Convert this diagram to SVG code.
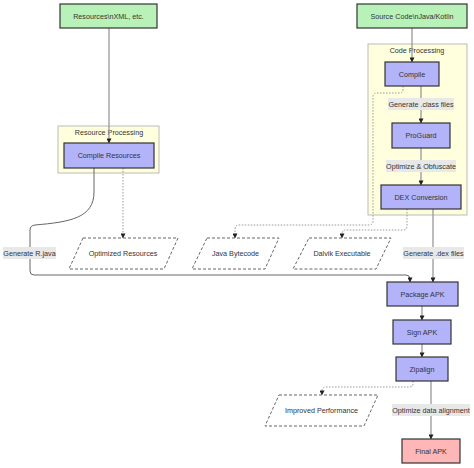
<svg xmlns="http://www.w3.org/2000/svg" width="474" height="468" viewBox="0 0 474 468">
<defs>
<marker id="arr" viewBox="0 0 6 6" refX="5.5" refY="3" markerWidth="5" markerHeight="5" orient="auto" markerUnits="userSpaceOnUse">
<path d="M0,0 L6,3 L0,6 z" fill="#222"/>
</marker>
</defs>
<style>
text{font-family:"Liberation Sans",Arial,sans-serif;font-size:7.2px;fill:#333;text-anchor:middle;dominant-baseline:central}
.green{fill:#b8f2b8;stroke:#333;stroke-width:1.2}
.proc{fill:#b3b3fa;stroke:#333;stroke-width:1.2}
.final{fill:#ffb6b6;stroke:#333;stroke-width:1.2}
.cluster{fill:#ffffde;stroke:#bbb;stroke-width:1}
.data{fill:#fff;stroke:#666;stroke-width:1;stroke-dasharray:3,2}
.solid{fill:none;stroke:#999;stroke-width:1.3}
.dark{fill:none;stroke:#666;stroke-width:1}
.dot{fill:none;stroke:#999;stroke-width:1;stroke-dasharray:1.5,1.5}
.lbl{fill:#e8e8e8;stroke:none}
</style>
<rect width="474" height="468" fill="#fff"/>
<g id="cluster-resource">
<rect class="cluster" x="58" y="126" width="101" height="47"/>
<text x="109" y="132">Resource Processing</text>
</g>
<g id="cluster-code">
<rect class="cluster" x="368" y="44" width="99" height="171"/>
<text x="417" y="50">Code Processing</text>
</g>
<g id="connectors">
<path class="solid" d="M109,28 L109,143" marker-end="url(#arr)"/>
<path class="solid" d="M412,28 L412,62" marker-end="url(#arr)"/>
<path class="solid" d="M421,86 L421,123" marker-end="url(#arr)"/>
<path class="solid" d="M421,148 L421,185" marker-end="url(#arr)"/>
<path class="dark" d="M94,168 L94,192 C94,218 70,222 35,225 Q30,225.5 30,230 L30,271 Q30,275 34,275 L406,275 Q410,275 410,279 L410,282" marker-end="url(#arr)"/>
<path class="dot" d="M123,168 L123,238" marker-end="url(#arr)"/>
<path class="dot" d="M403,86 L403,90 Q403,93 399,93 L377,93 Q373,93 373,97 L373,221 Q373,225 369,225 L239,225 Q235,225 235,229 L235,238" marker-end="url(#arr)"/>
<path class="dot" d="M407,209 L407,226 Q407,230 403,230 L346,230 Q342,230 342,234 L342,238" marker-end="url(#arr)"/>
<path class="solid" d="M433,209 L433,282" marker-end="url(#arr)"/>
<path class="solid" d="M422,306 L422,320" marker-end="url(#arr)"/>
<path class="solid" d="M422,344 L422,357" marker-end="url(#arr)"/>
<path class="dot" d="M413,381 L413,384 Q413,387 409,387 L326,387 Q322,387 322,391 L322,395" marker-end="url(#arr)"/>
<path class="solid" d="M431,381 L431,439" marker-end="url(#arr)"/>
<rect class="lbl" x="388" y="98" width="66" height="12"/>
<text x="421" y="104">Generate .class files</text>
<rect class="lbl" x="386" y="160" width="70" height="12"/>
<text x="421" y="166">Optimize &amp; Obfuscate</text>
<rect class="lbl" x="3" y="247" width="53" height="12"/>
<text x="29.5" y="253">Generate R.java</text>
<rect class="lbl" x="403" y="247" width="61" height="12"/>
<text x="433.5" y="253">Generate .dex files</text>
<rect class="lbl" x="392" y="404" width="78" height="12"/>
<text x="431" y="410">Optimize data alignment</text>
</g>
<g id="node-resources">
<rect class="green" x="60" y="4" width="97" height="24"/>
<text x="108.5" y="16">Resources\nXML, etc.</text>
</g>
<g id="node-source">
<rect class="green" x="357" y="4" width="110" height="24"/>
<text x="412" y="16">Source Code\nJava/Kotlin</text>
</g>
<g id="node-compile-resources">
<rect class="proc" x="64" y="143" width="90" height="25"/>
<text x="109" y="155.5">Compile Resources</text>
</g>
<g id="node-compile">
<rect class="proc" x="385" y="62" width="54" height="24"/>
<text x="412" y="74">Compile</text>
</g>
<g id="node-proguard">
<rect class="proc" x="392" y="123" width="58" height="25"/>
<text x="421" y="135.5">ProGuard</text>
</g>
<g id="node-dex">
<rect class="proc" x="381" y="185" width="80" height="24"/>
<text x="421" y="197">DEX Conversion</text>
</g>
<g id="node-optimized-resources">
<polygon class="data" points="83,238 178,238 164,269 69,269"/>
<text x="123" y="253.5">Optimized Resources</text>
</g>
<g id="node-java-bytecode">
<polygon class="data" points="207,238 279,238 265,269 192,269"/>
<text x="235.5" y="253.5">Java Bytecode</text>
</g>
<g id="node-dalvik">
<polygon class="data" points="309,238 391,238 376,269 293,269"/>
<text x="342" y="253.5">Dalvik Executable</text>
</g>
<g id="node-package">
<rect class="proc" x="387" y="282" width="71" height="24"/>
<text x="422.5" y="294">Package APK</text>
</g>
<g id="node-sign">
<rect class="proc" x="393" y="320" width="58" height="24"/>
<text x="422" y="332">Sign APK</text>
</g>
<g id="node-zipalign">
<rect class="proc" x="396" y="357" width="52" height="24"/>
<text x="422" y="369">Zipalign</text>
</g>
<g id="node-improved">
<polygon class="data" points="279,395 378,395 364,426 265,426"/>
<text x="321.5" y="410.5">Improved Performance</text>
</g>
<g id="node-final">
<rect class="final" x="402" y="439" width="58" height="24"/>
<text x="431" y="451">Final APK</text>
</g>
</svg>
